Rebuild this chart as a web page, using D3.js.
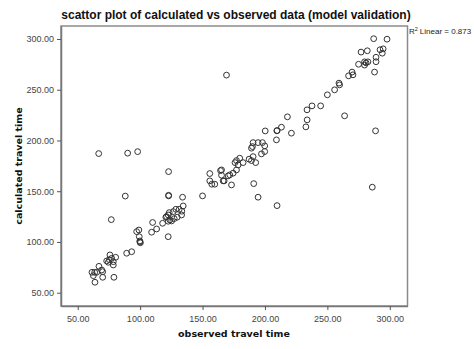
<!DOCTYPE html>
<html><head><meta charset="utf-8">
<script src="https://cdn.jsdelivr.net/npm/d3@7"></script>
<style>body{margin:0;background:#fff}svg{display:block}</style>
</head><body>
<svg id="c" width="474" height="349"></svg>
<script>
const observed = [63.8,62.5,61.4,63.6,65.2,67.0,69.2,70.0,70.0,79.0,73.2,74.5,75.8,77.2,78.5,78.5,80.4,75.3,76.9,89.2,93.2,97.2,99.0,99.3,99.8,99.8,100.2,109.2,113.2,122.5,
66.8,90.0,98.0,88.1,122.8,169.2,
122.8,122.8,134.0,150.0,110.0,118.0,120.6,122.5,123.3,123.8,125.2,122.5,126.5,128.6,131.3,134.5,133.4,133.2,129.7,127.3,121.2,
155.8,155.8,157.4,159.8,164.4,165.2,167.3,170.5,165.2,166.5,171.8,174.5,177.2,176.0,177.2,178.5,179.8,182.5,187.3,189.2,192.6,190.5,197.2,199.8,189.2,190.0,190.5,194.5,198.0,199.8,173.2,191.0,194.5,209.7,
200.2,209.5,209.8,213.2,221.2,209.2,218.0,232.8,233.8,233.7,237.7,244.6,250.0,255.8,259.3,259.8,263.8,267.0,269.8,270.5,275.0,279.8,279.8,282.5,281.0,277.0,282.0,287.1,297.8,292.2,294.7,294.0,289.0,289.0,287.8,288.6,286.0];
const calculated = [60.3,66.8,70.1,70.1,70.1,76.0,72.4,70.7,65.2,65.2,81.3,80.0,87.2,83.9,80.6,77.3,84.9,82.5,122.0,88.9,90.4,110.2,111.8,105.2,101.0,100.0,99.2,109.6,112.8,105.2,
187.1,187.5,189.0,145.2,169.3,264.4,
145.4,146.0,144.1,145.4,119.2,118.4,124.4,126.6,128.9,121.7,120.7,120.4,129.9,132.2,132.2,135.5,130.3,126.6,124.4,123.0,125.0,
167.4,160.2,156.9,156.9,170.3,165.8,160.2,165.1,171.0,160.2,166.1,167.8,171.0,178.2,180.2,175.9,182.5,178.2,181.6,180.2,178.2,184.1,186.8,189.1,192.4,194.0,197.9,197.9,197.9,194.7,156.2,157.5,144.1,135.8,
209.4,209.5,209.8,213.1,207.2,200.6,223.3,213.4,220.3,230.2,234.1,234.1,245.0,249.9,256.5,254.8,224.3,263.7,267.4,264.7,275.1,277.5,274.3,277.5,276.5,287.1,288.4,300.3,299.8,289.4,290.3,286.0,282.0,277.6,267.4,209.5,154.0];
const xTicks = [50,100,150,200,250,300];
const yTicks = [50,100,150,200,250,300];
const titleText = "scattor plot of calculated vs observed data (model validation)";
const xTitle = "observed travel time";
const yTitle = "calculated travel time";
const r2Label = "Linear = 0.873";

const svg = d3.select("#c");
const L=61, R=407.5, T=26, B=306;
const x = d3.scaleLinear().domain([36.6,314.2]).range([L,R]);
const y = d3.scaleLinear().domain([36.9,312.8]).range([B,T]);

svg.append("rect").attr("x",L).attr("y",T).attr("width",R-L).attr("height",B-T)
  .attr("fill","none").attr("stroke","#8a8a8a").attr("stroke-width",1.5);

const fmt = d3.format(".2f");
const gx = svg.append("g").attr("transform",`translate(0,${B})`)
  .call(d3.axisBottom(x).tickValues(xTicks).tickFormat(fmt).tickSize(4).tickSizeOuter(0));
const gy = svg.append("g").attr("transform",`translate(${L},0)`)
  .call(d3.axisLeft(y).tickValues(yTicks).tickFormat(fmt).tickSize(4).tickSizeOuter(0));
[gx,gy].forEach(g=>{
  g.select(".domain").attr("stroke","#777").attr("stroke-width",1.5);
  g.selectAll(".tick line").attr("stroke","#555");
  g.selectAll(".tick text").attr("fill","#444").attr("font-family","Liberation Sans, Arial, sans-serif").attr("font-size",9);
});
gx.selectAll(".tick text").attr("dy","0.95em");

svg.append("g").selectAll("circle").data(observed.map((v,i)=>[v,calculated[i]]))
  .join("circle").attr("cx",d=>x(d[0])).attr("cy",d=>y(d[1])).attr("r",2.9)
  .attr("fill","none").attr("stroke","#333").attr("stroke-width",1);

svg.append("text").attr("x",236).attr("y",19).attr("text-anchor","middle")
  .attr("font-family","Liberation Sans, Arial, sans-serif").attr("font-weight","bold")
  .attr("font-size",12).attr("fill","#111").text(titleText);
svg.append("text").attr("x",234).attr("y",337).attr("text-anchor","middle")
  .attr("font-family","DejaVu Sans, Verdana, sans-serif").attr("font-weight","bold")
  .attr("font-size",9.5).attr("fill","#111").text(xTitle);
svg.append("text").attr("transform","translate(22,166) rotate(-90)").attr("text-anchor","middle")
  .attr("font-family","DejaVu Sans, Verdana, sans-serif").attr("font-weight","bold")
  .attr("font-size",9.5).attr("fill","#111").text(yTitle);

const r2 = svg.append("text").attr("x",409).attr("y",34)
  .attr("font-family","Liberation Sans, Arial, sans-serif").attr("font-size",8).attr("fill","#222");
r2.append("tspan").text("R");
r2.append("tspan").attr("font-size",5.5).attr("dy",-3).text("2");
r2.append("tspan").attr("dy",3).attr("dx",2).text(r2Label);
</script>
</body></html>
